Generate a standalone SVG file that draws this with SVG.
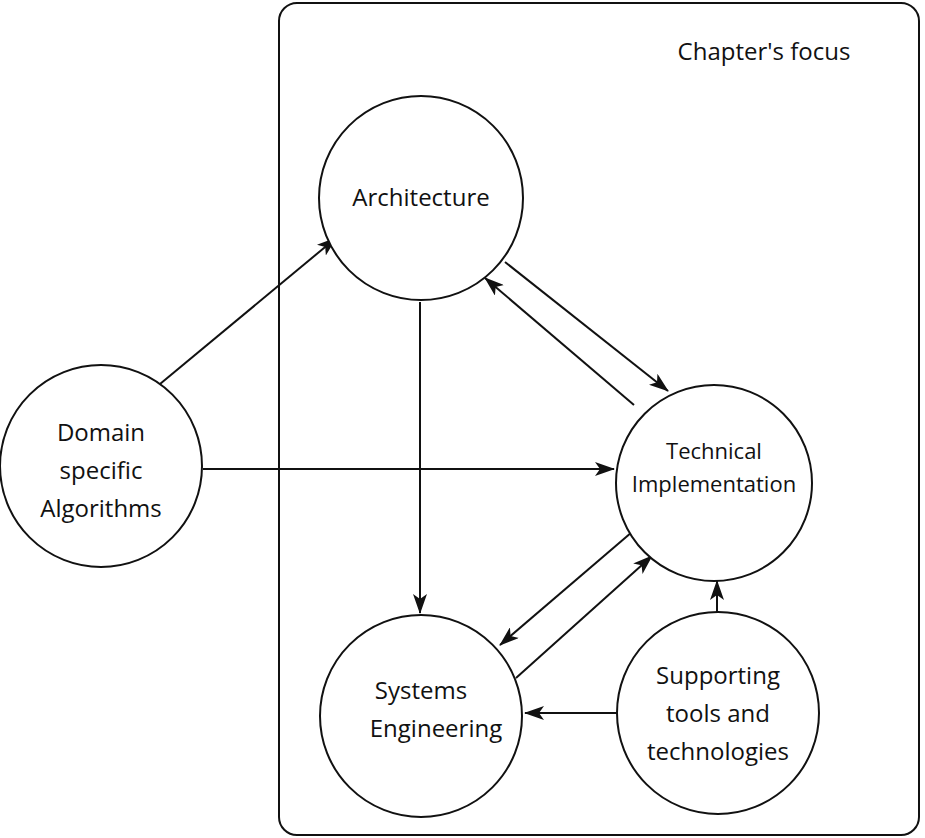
<svg xmlns="http://www.w3.org/2000/svg" width="925" height="838" viewBox="0 0 925 838">
<style>
.n{fill:#fff;stroke:#111;stroke-width:2}
.t{font-family:"Open Sans","Liberation Sans",sans-serif;font-size:24px;fill:#111;text-anchor:middle}
.c line{stroke:#111;stroke-width:2;marker-end:url(#b)}
</style>
<defs><marker id="b" viewBox="0 0 20 14" refX="19" refY="7" markerWidth="20" markerHeight="14" markerUnits="userSpaceOnUse" orient="auto"><path d="M0,0 L20,7 L0,14 L5,7 Z" fill="#111"/></marker></defs>
<rect x="279" y="3" width="640" height="832" rx="18" fill="none" stroke="#111" stroke-width="2"/>
<text class="t" x="764" y="60">Chapter's focus</text>
<g class="c">
<line x1="160" y1="384" x2="336" y2="238"/>
<line x1="203" y1="469" x2="614" y2="469"/>
<line x1="420" y1="302" x2="420" y2="613"/>
<line x1="505" y1="262" x2="668" y2="391"/>
<line x1="634" y1="405" x2="485" y2="278"/>
<line x1="632" y1="532" x2="500" y2="645"/>
<line x1="516" y1="678" x2="652" y2="556"/>
<line x1="717" y1="612" x2="717" y2="581"/>
<line x1="617" y1="713" x2="525" y2="713"/>
</g>
<g id="arch"><circle class="n" cx="421" cy="198" r="102"/><text class="t" x="421" y="206">Architecture</text></g>
<g id="domain"><circle class="n" cx="101" cy="466" r="101"/><text class="t" x="101" y="441">Domain</text><text class="t" x="101" y="479">specific</text><text class="t" x="101" y="517">Algorithms</text></g>
<g id="tech"><circle class="n" cx="714" cy="483" r="98"/><text class="t" x="714" y="459" style="font-size:22px">Technical</text><text class="t" x="714" y="492" style="font-size:22px">Implementation</text></g>
<g id="sys"><circle class="n" cx="421" cy="716" r="101"/><text class="t" x="421" y="699">Systems</text><text class="t" x="436" y="737">Engineering</text></g>
<g id="sup"><circle class="n" cx="718" cy="713" r="101"/><text class="t" x="718" y="684">Supporting</text><text class="t" x="718" y="722">tools and</text><text class="t" x="718" y="760">technologies</text></g>
</svg>
